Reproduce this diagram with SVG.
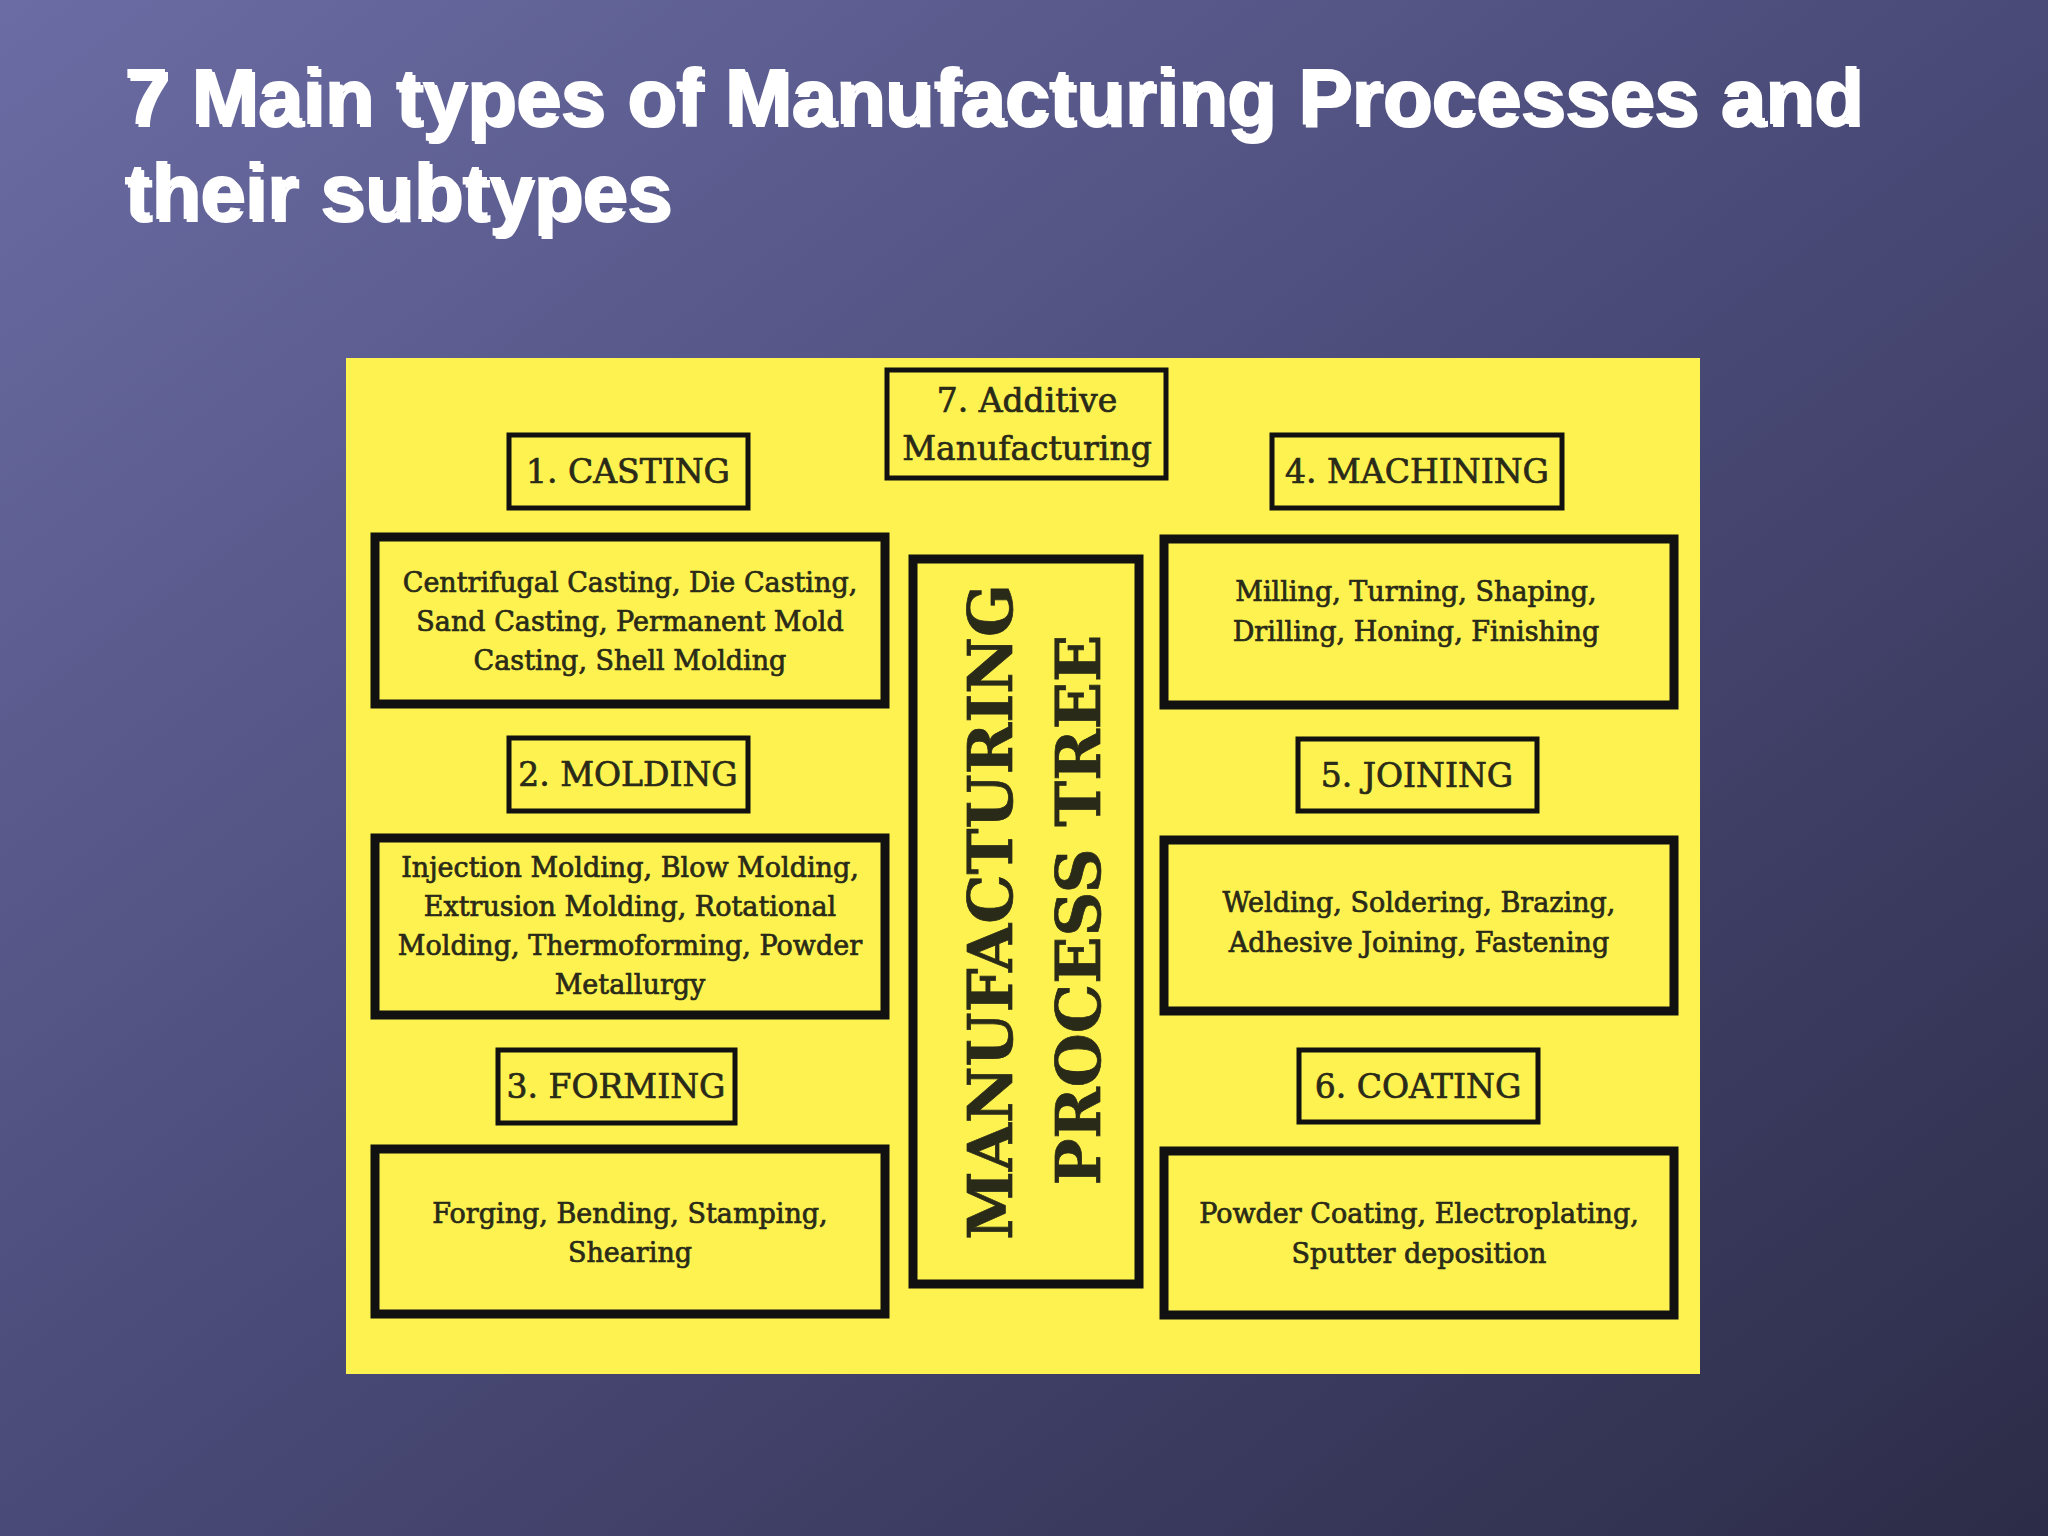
<svg xmlns="http://www.w3.org/2000/svg" width="2048" height="1536" viewBox="0 0 2048 1536">
<defs>
<linearGradient id="bg" x1="0" y1="0" x2="1" y2="1">
<stop offset="0" stop-color="#6b6ca3"/><stop offset="0.5" stop-color="#4a4a78"/><stop offset="1" stop-color="#2c2c48"/>
</linearGradient>
<style>
.lb{fill:none;stroke:#111;stroke-width:5}
.db{fill:none;stroke:#111;stroke-width:9}
.t{font-family:"DejaVu Serif","Liberation Serif",serif;fill:#2a2a18;stroke:#2a2a18;stroke-width:0.7;text-anchor:middle}
.s{font-size:27px}
.l{font-size:33px}
.h{font-family:"Liberation Sans",Arial,sans-serif;font-weight:bold;font-size:80px;fill:#fff}
</style>
</defs>
<rect width="2048" height="1536" fill="url(#bg)"/>
<g id="title">
<text class="h" x="127" y="127" fill="#222">7 Main types of Manufacturing Processes and</text>
<text class="h" x="127" y="222" fill="#222">their subtypes</text>
<text class="h" x="124" y="124">7 Main types of Manufacturing Processes and</text>
<text class="h" x="124" y="219">their subtypes</text>
</g>
<rect x="346" y="358" width="1354" height="1016" fill="#fdf24f"/>
<g id="additive"><rect class="lb" x="887" y="370" width="279" height="108"/>
<text class="t l" x="1027" y="412">7. Additive</text><text class="t l" x="1027" y="460">Manufacturing</text></g>
<g id="casting"><rect class="lb" x="509" y="435" width="239" height="73"/><text class="t l" x="628" y="483">1. CASTING</text></g>
<g id="casting-sub"><rect class="db" x="375" y="537" width="510" height="167"/>
<text class="t s" x="630" y="592">Centrifugal Casting, Die Casting,</text>
<text class="t s" x="630" y="631">Sand Casting, Permanent Mold</text>
<text class="t s" x="630" y="670">Casting, Shell Molding</text></g>
<g id="molding"><rect class="lb" x="509" y="738" width="239" height="73"/><text class="t l" x="628" y="786">2. MOLDING</text></g>
<g id="molding-sub"><rect class="db" x="375" y="838" width="510" height="177"/>
<text class="t s" x="630" y="877">Injection Molding, Blow Molding,</text>
<text class="t s" x="630" y="916">Extrusion Molding, Rotational</text>
<text class="t s" x="630" y="955">Molding, Thermoforming, Powder</text>
<text class="t s" x="630" y="994">Metallurgy</text></g>
<g id="forming"><rect class="lb" x="498" y="1050" width="237" height="73"/><text class="t l" x="616" y="1098">3. FORMING</text></g>
<g id="forming-sub"><rect class="db" x="375" y="1149" width="510" height="165"/>
<text class="t s" x="630" y="1223">Forging, Bending, Stamping,</text>
<text class="t s" x="630" y="1262">Shearing</text></g>
<g id="center"><rect class="db" x="913" y="559" width="226" height="725" stroke-width="10"/>
<text class="t" font-size="62" font-weight="bold" stroke-width="0" transform="translate(1012 912) rotate(-90)">MANUFACTURING</text>
<text class="t" font-size="62" font-weight="bold" stroke-width="0" transform="translate(1100 910) rotate(-90)">PROCESS TREE</text></g>
<g id="machining"><rect class="lb" x="1272" y="435" width="290" height="73"/><text class="t l" x="1417" y="483">4. MACHINING</text></g>
<g id="machining-sub"><rect class="db" x="1164" y="539" width="510" height="166"/>
<text class="t s" x="1416" y="601">Milling, Turning, Shaping,</text>
<text class="t s" x="1416" y="641">Drilling, Honing, Finishing</text></g>
<g id="joining"><rect class="lb" x="1298" y="739" width="239" height="72"/><text class="t l" x="1417" y="787">5. JOINING</text></g>
<g id="joining-sub"><rect class="db" x="1164" y="840" width="510" height="171"/>
<text class="t s" x="1419" y="912">Welding, Soldering, Brazing,</text>
<text class="t s" x="1419" y="952">Adhesive Joining, Fastening</text></g>
<g id="coating"><rect class="lb" x="1299" y="1050" width="239" height="72"/><text class="t l" x="1418" y="1098">6. COATING</text></g>
<g id="coating-sub"><rect class="db" x="1164" y="1151" width="510" height="164"/>
<text class="t s" x="1419" y="1223">Powder Coating, Electroplating,</text>
<text class="t s" x="1419" y="1263">Sputter deposition</text></g>
<g id="connectors"/>
</svg>
